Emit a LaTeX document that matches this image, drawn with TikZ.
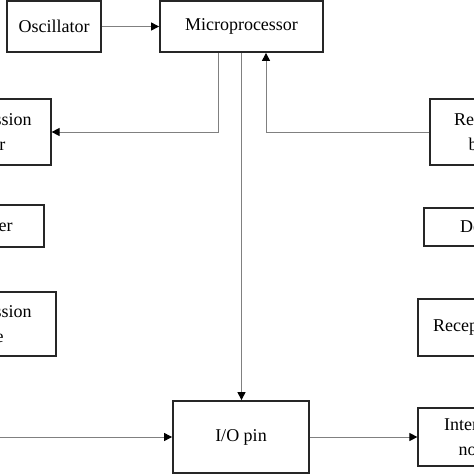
\documentclass[tikz,border=0pt]{standalone}
\usepackage{fontspec}
\setmainfont{Liberation Serif}
\usetikzlibrary{arrows.meta}
\begin{document}
\begin{tikzpicture}[x=1pt,y=-1pt,
  blk/.style={draw=black!85,line width=1.2pt,fill=white,inner sep=0pt,align=center,
    font=\fontsize{18}{25}\selectfont},
  mainblk/.style={blk,line width=1.8pt},
  conn/.style={draw=black!50,line width=1pt,-{Triangle[black,length=8pt,width=8pt]}},
  plain/.style={draw=black!50,line width=1pt}]
\useasboundingbox (0,0) rectangle (474,474);
\clip (0,0) rectangle (474,474);
\fill[white] (0,0) rectangle (474,474);
\node[blk,minimum width=94pt,minimum height=51pt] (osc) at (54,26.5) {Oscillator};
\node[mainblk,minimum width=163pt,minimum height=51pt] (micro) at (241.5,26.5) {Microprocessor};
\node[blk,minimum width=135pt,minimum height=66pt] (tb) at (-16.5,132) {Transmission\\buffer};
\node[blk,minimum width=146pt,minimum height=42pt] (tx) at (-29,226) {Transmitter};
\node[blk,minimum width=145pt,minimum height=64pt] (tdi) at (-16.5,324) {Transmission\\diode};
\node[blk,minimum width=121pt,minimum height=66pt] (rb) at (490.5,132) {Reception\\buffer};
\node[blk,minimum width=134pt,minimum height=38pt] (det) at (491,227) {Detector};
\node[blk,minimum width=95pt,minimum height=57pt] (rcp) at (465.5,327.5) {Receptor};
\node[mainblk,minimum width=136pt,minimum height=72pt] (io) at (241,437) {I/O pin};
\node[blk,minimum width=116pt,minimum height=58pt] (im) at (476,437) {Interface\\node};
\coordinate (inp) at (-10,437);
\draw[conn] (osc.east) -- (micro.west);
\draw[conn] ([xshift=-23.5pt]micro.south) |- (tb.east);
\draw[conn] (rb.west) -| ([xshift=24.5pt]micro.south);
\draw[conn] (micro.south) -- (micro.south |- io.north);
\draw[conn] (inp) -- (io.west);
\draw[conn] (io.east) -- (im.west);
\end{tikzpicture}
\end{document}
